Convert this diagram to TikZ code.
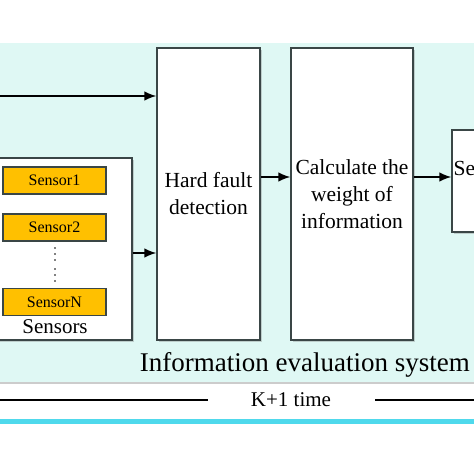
\documentclass[tikz,border=0pt]{standalone}
\usepackage{fontspec}
\setmainfont{Liberation Serif}
\usetikzlibrary{arrows.meta,shadows}
\definecolor{panel}{HTML}{DFF8F4}
\definecolor{edge}{HTML}{3A4646}
\definecolor{sensorfill}{HTML}{FFC000}
\definecolor{cyanline}{HTML}{4FD9EC}
\tikzset{
  blockbox/.style={draw=edge, line width=1.4pt, fill=white, inner sep=0pt,
    drop shadow={shadow xshift=1.5pt, shadow yshift=-1.5pt, opacity=0.35, fill=gray}},
  sensorbox/.style={draw=edge, line width=1.2pt, fill=sensorfill, minimum width=103pt,
    minimum height=27pt, inner sep=0pt, font=\fontsize{16}{18}\selectfont},
  bigtext/.style={align=center, font=\fontsize{21.5}{27}\selectfont},
  flow/.style={-{Latex[length=12pt,width=9.5pt]}, line width=1.5pt, black},
  dotmark/.style={circle, fill=black, inner sep=0pt, minimum size=1.8pt}
}
\begin{document}
\begin{tikzpicture}[x=1pt,y=-1pt]
\useasboundingbox (0,0) rectangle (474,474);
\fill[white] (0,0) rectangle (474,474);
% panel
\fill[gray!40] (0,43) rectangle (474,384);
\fill[panel] (0,43) rectangle (474,382);
% blocks
\node[blockbox, minimum width=103pt, minimum height=292pt] (hfd) at (208.5,194) {};
\node[bigtext] (hfdt) at (208.5,194) {Hard fault\\detection};
\node[blockbox, minimum width=122pt, minimum height=292pt] (calc) at (352,194) {};
\node[bigtext] (calct) at (352,194) {Calculate the\\weight of\\information};
\node[blockbox, minimum width=60pt, minimum height=102pt] (sel) at (482,181) {};
\node[bigtext, anchor=west, inner sep=0pt] (selt) at (453.5,168) {Se};
% sensors box
\node[blockbox, minimum width=137pt, minimum height=182pt] (sens) at (63.5,249) {};
\node[sensorbox] (s1) at (54.5,180.5) {Sensor1};
\node[sensorbox] (s2) at (54.5,227.5) {Sensor2};
\node[sensorbox] (sn) at (54.5,302) {SensorN};
\foreach \yy [count=\i] in {248,254,260,269,275,281}
  \node[dotmark] (dot\i) at (55,\yy) {};
\node[font=\fontsize{21}{24}\selectfont, inner sep=0pt] (slab) at (55,327) {Sensors};
% arrows
\coordinate (inleft) at (0,96);
\draw[flow] (inleft) -- (inleft -| hfd.west);
\draw[flow] (sens.east |- 0,253) -- (hfd.west |- 0,253);
\draw[flow] (hfd.east |- 0,177) -- (calc.west |- 0,177);
\draw[flow] (calc.east |- 0,177) -- (sel.west |- 0,177);
% titles
\node[font=\fontsize{27}{30}\selectfont, anchor=east, inner sep=0pt] (sys) at (470,365) {Information evaluation system};
\node[font=\fontsize{21}{24}\selectfont, inner sep=0pt] (time) at (291,400) {K+1 time};
\coordinate (tl) at (0,400);
\coordinate (tr) at (474,400);
\draw[line width=1.6pt] (tl) -- (208,400);
\draw[line width=1.6pt] (375,400) -- (tr);
\draw[cyanline, line width=5pt] (0,421) -- (474,421);
\end{tikzpicture}
\end{document}
